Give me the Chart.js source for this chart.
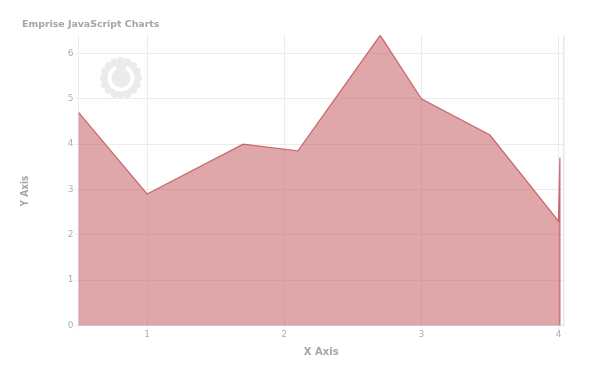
<!DOCTYPE html>
<html>
<head>
<meta charset="utf-8">
<style>
html, body { margin: 0; padding: 0; background: #fff; }
canvas { display: block; }
</style>
<script src="https://cdn.jsdelivr.net/npm/chart.js@4"></script>
</head>
<body>
<canvas id="c" width="600" height="375"></canvas>
<script>
var xValues = [0.5, 0.5, 1, 1.7, 2.1, 2.7, 3, 3.5, 4, 4.01, 4.01, 0.5];
var yValues = [0, 4.7, 2.9, 4, 3.85, 6.4, 5, 4.2, 2.3, 3.7, 0, 0];
var xTicks = [1, 2, 3, 4];
var yTicks = [0, 1, 2, 3, 4, 5, 6];

var points = xValues.map(function(x, i) { return { x: x, y: yValues[i] }; });
var font = 'DejaVu Sans, Verdana, sans-serif';
var xMax = 4.04;

// faint gear logo behind the plot, y axis title placed by hand
var extras = {
    id: 'extras',
    beforeDatasetsDraw: function(chart) {
        var g = chart.ctx, cx = 121, cy = 78;
        g.save();
        g.fillStyle = '#ebebeb';
        g.beginPath();
        g.arc(cx, cy, 19.5, 0, Math.PI * 2);
        g.fill();
        for (var i = 0; i < 16; i++) {
            g.save();
            g.translate(cx, cy);
            g.rotate(i * Math.PI / 8);
            g.fillRect(-2.5, -21, 5, 3);
            g.restore();
        }
        g.strokeStyle = '#fff';
        g.lineWidth = 4;
        g.beginPath();
        g.arc(cx, cy, 11.5, -Math.PI / 2 + 0.45, -Math.PI / 2 - 0.45);
        g.stroke();
        g.strokeStyle = '#ebebeb';
        g.lineWidth = 4;
        g.beginPath();
        g.moveTo(cx, cy - 16);
        g.lineTo(cx, cy + 1);
        g.stroke();
        g.restore();
    },
    afterDraw: function(chart) {
        var g = chart.ctx;
        g.save();
        g.translate(25.5, 191);
        g.rotate(-Math.PI / 2);
        g.scale(0.9, 1);
        g.fillStyle = '#a0a6ad';
        g.font = 'bold 10px ' + font;
        g.textAlign = 'center';
        g.textBaseline = 'middle';
        g.fillText('Y Axis', 0, 0);
        g.restore();
    }
};

function pinWidth(w) { return function(s) { s.width = w; }; }
function pinHeight(h) { return function(s) { s.height = h; }; }

new Chart(document.getElementById('c'), {
    type: 'line',
    data: {
        datasets: [{
            // area only, the closing point would make the filler clip to nothing
            data: points.slice(0, -1),
            backgroundColor: 'rgba(192,80,85,0.5)',
            borderWidth: 0,
            pointRadius: 0,
            tension: 0,
            fill: 'origin'
        }, {
            data: points,
            borderColor: 'rgba(190,70,80,0.75)',
            borderWidth: 1.3,
            pointRadius: 0,
            tension: 0,
            fill: false,
            segment: {
                // left and bottom edges are much fainter than the top line
                borderColor: function(ctx) {
                    var flat = ctx.p0.parsed.y === 0 || ctx.p1.parsed.y === 0;
                    return flat && ctx.p1.parsed.x < 4.01 || flat && ctx.p0.parsed.x === 4.01 && ctx.p1.parsed.x === 0.5
                        ? 'rgba(190,70,80,0.3)' : undefined;
                }
            }
        }]
    },
    options: {
        responsive: false,
        animation: false,
        layout: { padding: { left: 22, right: 36, top: 0, bottom: 17 } },
        plugins: {
            legend: { display: false },
            tooltip: { enabled: false },
            title: {
                display: true,
                text: 'Emprise JavaScript Charts',
                align: 'start',
                color: '#a0a6ad',
                font: { family: font, size: 9.4, weight: 'bold' },
                padding: { top: 19, bottom: 5 }
            }
        },
        scales: {
            x: {
                type: 'linear',
                min: 0.5,
                max: xMax,
                afterBuildTicks: function(s) {
                    s.ticks = [0.5].concat(xTicks, [xMax]).map(function(v) { return { value: v }; });
                },
                afterFit: pinHeight(32.5),
                grid: {
                    tickLength: 4,
                    color: function(ctx) { return ctx.tick && ctx.tick.value === xMax ? '#e8e8e8' : '#ececec'; },
                    lineWidth: function(ctx) { return ctx.tick && ctx.tick.value === xMax ? 1.5 : 1; },
                    tickColor: function(ctx) { return ctx.tick && ctx.tick.value === xMax ? 'transparent' : '#ececec'; }
                },
                border: { color: '#e4e4e4' },
                ticks: {
                    autoSkip: false, maxRotation: 0, color: '#aeaeae', padding: 0,
                    font: { family: font, size: 9 },
                    callback: function(v) { return xTicks.indexOf(v) >= 0 ? String(v) : ''; }
                },
                title: {
                    display: true, text: 'X Axis', color: '#a0a6ad',
                    font: { family: font, size: 10, weight: 'bold' },
                    padding: { top: 6, bottom: 0 }
                }
            },
            y: {
                min: 0,
                max: 6.4,
                afterBuildTicks: function(s) {
                    s.ticks = yTicks.map(function(v) { return { value: v }; });
                },
                afterFit: pinWidth(56.5),
                grid: { color: '#ececec', tickLength: 4 },
                border: { color: '#ececec' },
                ticks: {
                    color: '#aeaeae', padding: 1,
                    font: { family: font, size: 9 }
                }
            }
        }
    },
    plugins: [extras]
});
</script>
</body>
</html>
